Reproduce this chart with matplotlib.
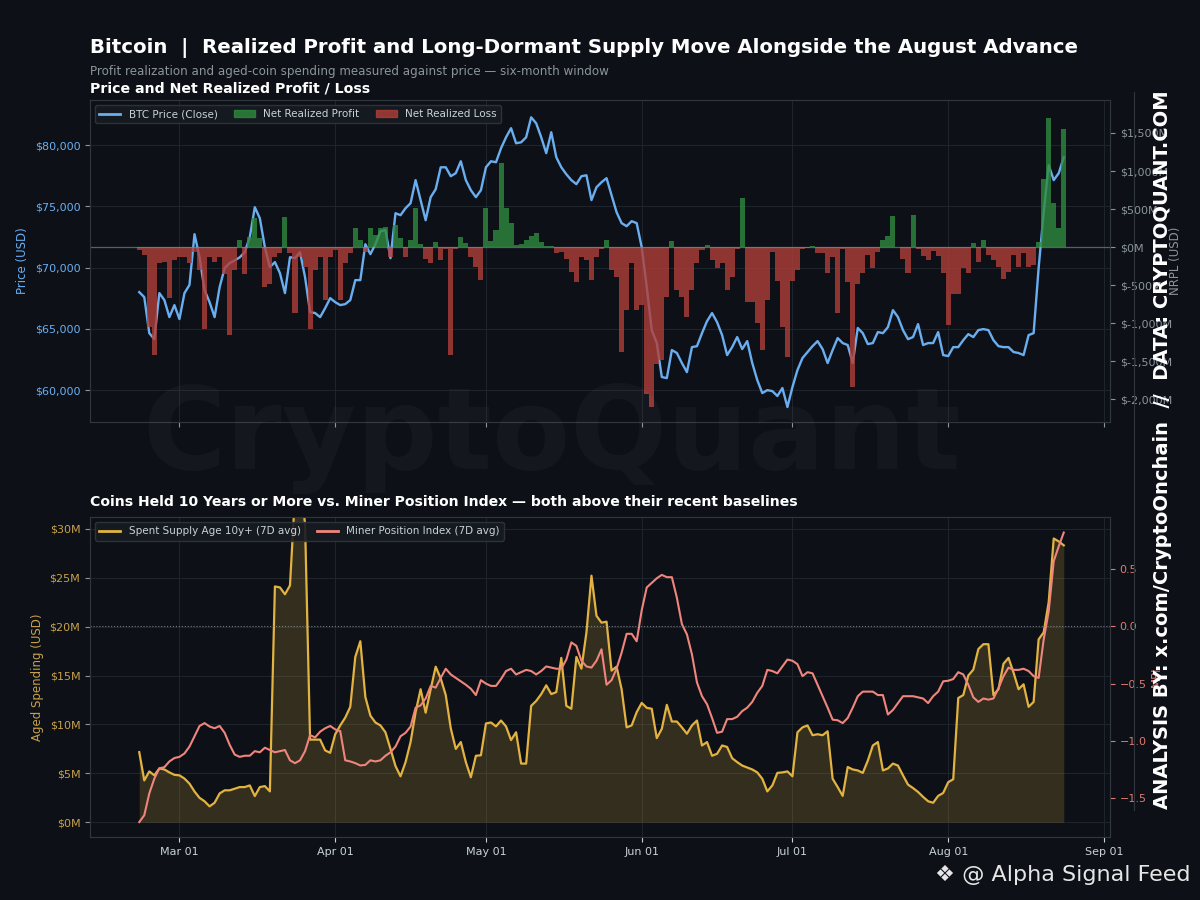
import numpy as np
import pandas as pd
import matplotlib
matplotlib.use("Agg")
import matplotlib.pyplot as plt
import matplotlib.dates as mdates
from matplotlib.patches import Patch
from matplotlib.lines import Line2D

# daily data, Feb 21 -> Aug 24
dates = pd.date_range("2025-02-21", periods=185, freq="D")

btc_price = [
    68010, 67600, 64660, 64170, 67930, 67360, 65970, 66950, 65810, 67930,
    68600, 72740, 70860, 68170, 67190, 65970, 68420, 69970, 70380, 70600,
    70850, 71270, 72500, 74940, 74040, 71680, 70050, 70460, 69560, 67930,
    70860, 70780, 71270, 69230, 66380, 66300, 65970, 66700, 67520, 67190,
    66950, 67030, 67360, 68990, 68990, 71920, 71110, 71920, 72980, 73070,
    70780, 74450, 74290, 74860, 75270, 77150, 75520, 73880, 75760, 76410,
    78200, 78200, 77470, 77720, 78690, 77150, 76330, 75760, 76330, 78200,
    78690, 78610, 79750, 80650, 81390, 80160, 80240, 80650, 82280, 81790,
    80650, 79350, 81060, 79020, 78200, 77630, 77150, 76820, 77470, 77550,
    75520, 76570, 76980, 77310, 75920, 74530, 73640, 73390, 73800, 73640,
    71680, 68420, 64910, 63850, 61080, 60990, 63280, 63040, 62220, 61480,
    63520, 63600, 64660, 65640, 66300, 65560, 64500, 62870, 63520, 64340,
    63360, 64010, 62220, 60830, 59770, 60010, 59930, 59530, 60180, 58630,
    60260, 61650, 62630, 63120, 63600, 64010, 63360, 62220, 63280, 64260,
    63850, 63690, 62220, 65080, 64660, 63770, 63850, 64750, 64660, 65150,
    66540, 65970, 64910, 64170, 64340, 65400, 63690, 63850, 63850, 64750,
    62870, 62790, 63520, 63520, 64090, 64580, 64340, 64910, 64990, 64910,
    64090, 63600, 63520, 63520, 63120, 63040, 62870, 64500, 64660, 70000,
    74500, 78370, 77150, 77720, 79020,
]

# net realized profit / loss, $M
nrpl = [
    -40, -105, -1050, -1420, -210, -190, -670, -170, -130, -130,
    -210, -60, -300, -1070, -130, -190, -130, -350, -1160, -300,
    100, -350, 130, 380, 115, -520, -480, -130, -80, 400,
    -80, -870, -130, -260, -1070, -300, -130, -700, -130, -40,
    -700, -210, -80, 250, 90, -60, 250, 160, 250, 270,
    -130, 290, 115, -130, 90, 510, 40, -160, -210, 70,
    -170, -30, -1420, -20, 135, 50, -130, -260, -435, 510,
    80, 225, 1105, 510, 315, 30, 40, 100, 150, 180,
    70, 20, 10, -80, -60, -150, -325, -455, -130, -175,
    -435, -130, -20, 100, -300, -390, -1375, -830, -215, -830,
    -765, -1925, -2100, -1530, -1490, -655, 80, -565, -655, -915,
    -565, -215, -40, 25, -175, -280, -215, -565, -390, -30,
    650, -720, -720, -1000, -1355, -700, -60, -450, -1050, -1440,
    -450, -300, -30, -10, 20, -80, -80, -345, -130, -870,
    -20, -455, -1840, -480, -345, -105, -280, -60, 100, 145,
    410, 5, -150, -345, 420, -20, -115, -175, -55, -115,
    -345, -1025, -610, -610, -280, -345, 60, -200, 100, -105,
    -175, -260, -415, -325, -105, -260, -80, -260, -240, 65,
    895, 1695, 585, 250, 1555,
]

# spent supply age 10y+ (7D avg), $M
ssa_10y = [
    7.17, 4.28, 5.2, 4.8, 5.5, 5.4, 5.1, 4.85, 4.8, 4.47,
    3.95, 3.15, 2.5, 2.15, 1.63, 2.0, 2.95, 3.27, 3.27, 3.44,
    3.6, 3.6, 3.77, 2.68, 3.6, 3.7, 3.16, 24.1, 24.0, 23.3,
    24.2, 33.5, 35.0, 30.5, 8.45, 8.45, 8.45, 7.35, 7.1, 9.0,
    9.9, 10.7, 11.8, 16.9, 18.5, 12.8, 10.9, 10.2, 9.9, 9.2,
    7.5, 5.75, 4.7, 6.15, 8.2, 11.25, 13.6, 11.2, 13.6, 15.9,
    14.7, 13.0, 9.6, 7.5, 8.2, 6.15, 4.6, 6.8, 6.85, 10.1,
    10.2, 9.8, 10.4, 9.8, 8.4, 9.2, 6.0, 6.0, 11.9, 12.4,
    13.1, 14.0, 13.1, 13.3, 16.8, 11.9, 11.6, 16.9, 15.7, 19.4,
    25.2, 21.1, 20.4, 20.5, 15.5, 15.9, 13.6, 9.7, 9.9, 11.25,
    12.2, 11.7, 11.6, 8.6, 9.55, 12.0, 10.3, 10.3, 9.7, 9.05,
    9.9, 10.4, 7.85, 8.2, 6.8, 7.0, 7.85, 7.7, 6.55, 6.15,
    5.8, 5.6, 5.4, 5.1, 4.45, 3.16, 3.77, 5.05, 5.1, 5.2,
    4.7, 9.2, 9.7, 9.9, 8.9, 9.0, 8.9, 9.3, 4.45, 3.6,
    2.7, 5.65, 5.4, 5.3, 5.05, 6.3, 7.85, 8.2, 5.3, 5.5,
    6.0, 5.8, 4.8, 3.85, 3.5, 3.1, 2.6, 2.15, 2.0, 2.7,
    3.0, 4.1, 4.4, 12.7, 13.0, 15.0, 15.6, 17.7, 18.2, 18.2,
    13.0, 13.6, 16.2, 16.8, 15.3, 13.6, 14.1, 11.8, 12.3, 18.7,
    19.4, 22.5, 29.0, 28.7, 28.3,
]

# miner position index (7D avg)
mpi = [
    -1.71, -1.65, -1.46, -1.33, -1.24, -1.23, -1.18, -1.15, -1.14, -1.11,
    -1.05, -0.96, -0.87, -0.845, -0.875, -0.89, -0.87, -0.93, -1.035, -1.12,
    -1.14, -1.13, -1.13, -1.09, -1.10, -1.06, -1.08, -1.10, -1.09, -1.08,
    -1.17, -1.195, -1.17, -1.09, -0.95, -0.97, -0.92, -0.89, -0.87, -0.90,
    -0.915, -1.17, -1.18, -1.195, -1.215, -1.21, -1.17, -1.18, -1.17, -1.13,
    -1.10, -1.05, -0.96, -0.93, -0.875, -0.71, -0.69, -0.63, -0.52, -0.535,
    -0.45, -0.37, -0.42, -0.45, -0.48, -0.51, -0.545, -0.60, -0.47, -0.50,
    -0.52, -0.52, -0.46, -0.39, -0.37, -0.42, -0.40, -0.38, -0.39, -0.42,
    -0.39, -0.35, -0.36, -0.37, -0.37, -0.29, -0.14, -0.17, -0.30, -0.35,
    -0.36, -0.30, -0.20, -0.51, -0.47, -0.37, -0.23, -0.065, -0.065, -0.13,
    0.14, 0.34, 0.38, 0.42, 0.45, 0.43, 0.43, 0.25, 0.02, -0.07,
    -0.245, -0.49, -0.61, -0.68, -0.80, -0.93, -0.92, -0.81, -0.81, -0.79,
    -0.74, -0.71, -0.66, -0.58, -0.52, -0.38, -0.39, -0.41, -0.35, -0.29,
    -0.30, -0.33, -0.435, -0.40, -0.41, -0.51, -0.61, -0.71, -0.815, -0.82,
    -0.845, -0.80, -0.71, -0.61, -0.57, -0.57, -0.57, -0.60, -0.60, -0.77,
    -0.73, -0.67, -0.61, -0.61, -0.61, -0.62, -0.63, -0.67, -0.61, -0.57,
    -0.48, -0.475, -0.46, -0.40, -0.42, -0.51, -0.62, -0.66, -0.63, -0.64,
    -0.63, -0.54, -0.435, -0.36, -0.38, -0.38, -0.37, -0.39, -0.435, -0.45,
    -0.115, 0.13, 0.57, 0.70, 0.82,
]

price_ticks = [60000, 65000, 70000, 75000, 80000]
nrpl_ticks = [-2000, -1500, -1000, -500, 0, 500, 1000, 1500]
ssa_ticks = [0, 5, 10, 15, 20, 25, 30]
mpi_ticks = [-1.5, -1.0, -0.5, 0.0, 0.5]

BG = "#0d1117"
GRID = "#1f252d"
SPINE = "#30363d"
BLUE = "#6aaef0"
GOLD = "#e3b341"
PINK = "#f0857d"
GREEN = "#2f8a3e"
RED = "#b03f3a"
GRAY = "#8b949e"

plt.rcParams["font.family"] = ["DejaVu Sans"]

fig = plt.figure(figsize=(12, 9), dpi=100, facecolor=BG)
ax1 = fig.add_axes([0.075, 0.531, 0.85, 0.358])
ax3 = fig.add_axes([0.075, 0.070, 0.85, 0.3556])

xlim = (dates[0] - pd.Timedelta(days=9.8), dates[-1] + pd.Timedelta(days=9.2))


def style(ax):
    ax.set_facecolor(BG)
    for s in ax.spines.values():
        s.set_color(SPINE)
        s.set_linewidth(0.8)
    ax.tick_params(colors=GRAY, labelsize=8, length=3.5, width=0.8)
    ax.grid(True, color=GRID, linewidth=0.7)
    ax.set_axisbelow(True)


# ---- top: price + NRPL
style(ax1)
ax1.plot(dates, btc_price, color=BLUE, lw=1.7, zorder=2)
ax1.set_ylim(57400, 83700)
ax1.set_yticks(price_ticks)
ax1.set_yticklabels([f"${v:,.0f}" for v in price_ticks], color=BLUE)
ax1.set_ylabel("Price (USD)", color=BLUE, fontsize=8.5)
ax1.set_xlim(xlim)
ax1.xaxis.set_major_locator(mdates.MonthLocator())
ax1.tick_params(axis="x", labelbottom=False)

ax2 = ax1.twinx()
ax2.set_facecolor("none")
n = np.array(nrpl, dtype=float)
ax2.bar(dates, np.where(n > 0, n, 0), width=1.0, color=GREEN, alpha=0.8, linewidth=0)
ax2.bar(dates, np.where(n < 0, n, 0), width=1.0, color=RED, alpha=0.8, linewidth=0)
ax2.axhline(0, color=GRAY, lw=0.9, alpha=0.6)
ax2.set_ylim(-2300, 1935)
ax2.set_yticks(nrpl_ticks)
ax2.set_yticklabels([f"${v:,.0f}M" for v in nrpl_ticks], color=GRAY)
ax2.tick_params(colors=GRAY, labelsize=8, length=3.5, width=0.8)
for s in ax2.spines.values():
    s.set_color(SPINE)
ax2.set_ylabel("NRPL (USD)", color=GRAY, fontsize=8.5, labelpad=-2)
ax2.set_xlim(xlim)

h_top = [Line2D([], [], color=BLUE, lw=2),
         Patch(color=GREEN, alpha=0.8), Patch(color=RED, alpha=0.8)]
leg = ax2.legend(h_top, ["BTC Price (Close)", "Net Realized Profit", "Net Realized Loss"],
                 loc="upper left", ncol=3, fontsize=7.5, frameon=True,
                 facecolor="#161b22", edgecolor=SPINE, labelcolor="#c9d1d9",
                 borderpad=0.4, columnspacing=1.6, handlelength=2.0)
leg.get_frame().set_alpha(0.9)

# ---- bottom: SSA 10y+ and MPI
style(ax3)
ax3.fill_between(dates, ssa_10y, 0, color=GOLD, alpha=0.18, linewidth=0)
ax3.plot(dates, ssa_10y, color=GOLD, lw=1.6)
ax3.set_ylim(-1.5, 31.2)
ax3.set_yticks(ssa_ticks)
ax3.set_yticklabels([f"${v}M" for v in ssa_ticks], color="#c9a24a")
ax3.set_ylabel("Aged Spending (USD)", color="#c9a24a", fontsize=8.5)
ax3.set_xlim(xlim)
ax3.xaxis.set_major_locator(mdates.MonthLocator())
ax3.xaxis.set_major_formatter(mdates.DateFormatter("%b %d"))
ax3.tick_params(axis="x", colors="#c9d1d9")

ax4 = ax3.twinx()
ax4.set_facecolor("none")
ax4.plot(dates, mpi, color=PINK, lw=1.5)
ax4.axhline(0, color=GRAY, lw=0.8, ls=":", alpha=0.8)
ax4.set_ylim(-1.84, 0.956)
ax4.set_yticks(mpi_ticks)
ax4.tick_params(colors="#e07a70", labelsize=8, length=3.5, width=0.8)
for s in ax4.spines.values():
    s.set_color(SPINE)
ax4.set_ylabel("MPI", color="#e07a70", fontsize=8.5, labelpad=2)
ax4.set_xlim(xlim)

h_bot = [Line2D([], [], color=GOLD, lw=2), Line2D([], [], color=PINK, lw=2)]
leg2 = ax4.legend(h_bot, ["Spent Supply Age 10y+ (7D avg)", "Miner Position Index (7D avg)"],
                  loc="upper left", ncol=2, fontsize=7.5, frameon=True,
                  facecolor="#161b22", edgecolor=SPINE, labelcolor="#c9d1d9",
                  borderpad=0.4, columnspacing=1.6, handlelength=2.0)
leg2.get_frame().set_alpha(0.9)

# ---- titles
fig.text(0.075, 1 - 48 / 900,
         "Bitcoin  |  Realized Profit and Long-Dormant Supply Move Alongside the August Advance",
         fontsize=14.2, weight="bold", color="white", va="center")
fig.text(0.075, 1 - 72 / 900,
         "Profit realization and aged-coin spending measured against price \u2014 six-month window",
         fontsize=8.6, color=GRAY, va="center")
fig.text(0.075, 1 - 88 / 900, "Price and Net Realized Profit / Loss",
         fontsize=10.2, weight="bold", color="white", va="center")
fig.text(0.075, 1 - 502 / 900,
         "Coins Held 10 Years or More vs. Miner Position Index \u2014 both above their recent baselines",
         fontsize=10.1, weight="bold", color="white", va="center")

# ---- watermarks / overlays
fig.text(0.46, 1 - 438 / 900, "CryptoQuant", fontsize=82, weight="bold",
         color="white", alpha=0.03, ha="center", va="center", zorder=10)
fig.add_artist(Line2D([1134 / 1200, 1134 / 1200], [1 - 92 / 900, 1 - 810 / 900],
                      color=SPINE, lw=0.8, transform=fig.transFigure))
fig.text(1162 / 1200, 1 - 450 / 900,
         "ANALYSIS BY: x.com/CryptoOnchain  //  DATA: CRYPTOQUANT.COM",
         rotation=90, fontsize=14, weight="bold", color="white",
         ha="center", va="center", zorder=11)
fig.text(0.992, 1 - 875 / 900, "\u2756 @ Alpha Signal Feed", fontsize=16,
         color="#e6e6e6", ha="right", va="center", zorder=11)

fig.savefig("out.png", dpi=100, facecolor=BG)
